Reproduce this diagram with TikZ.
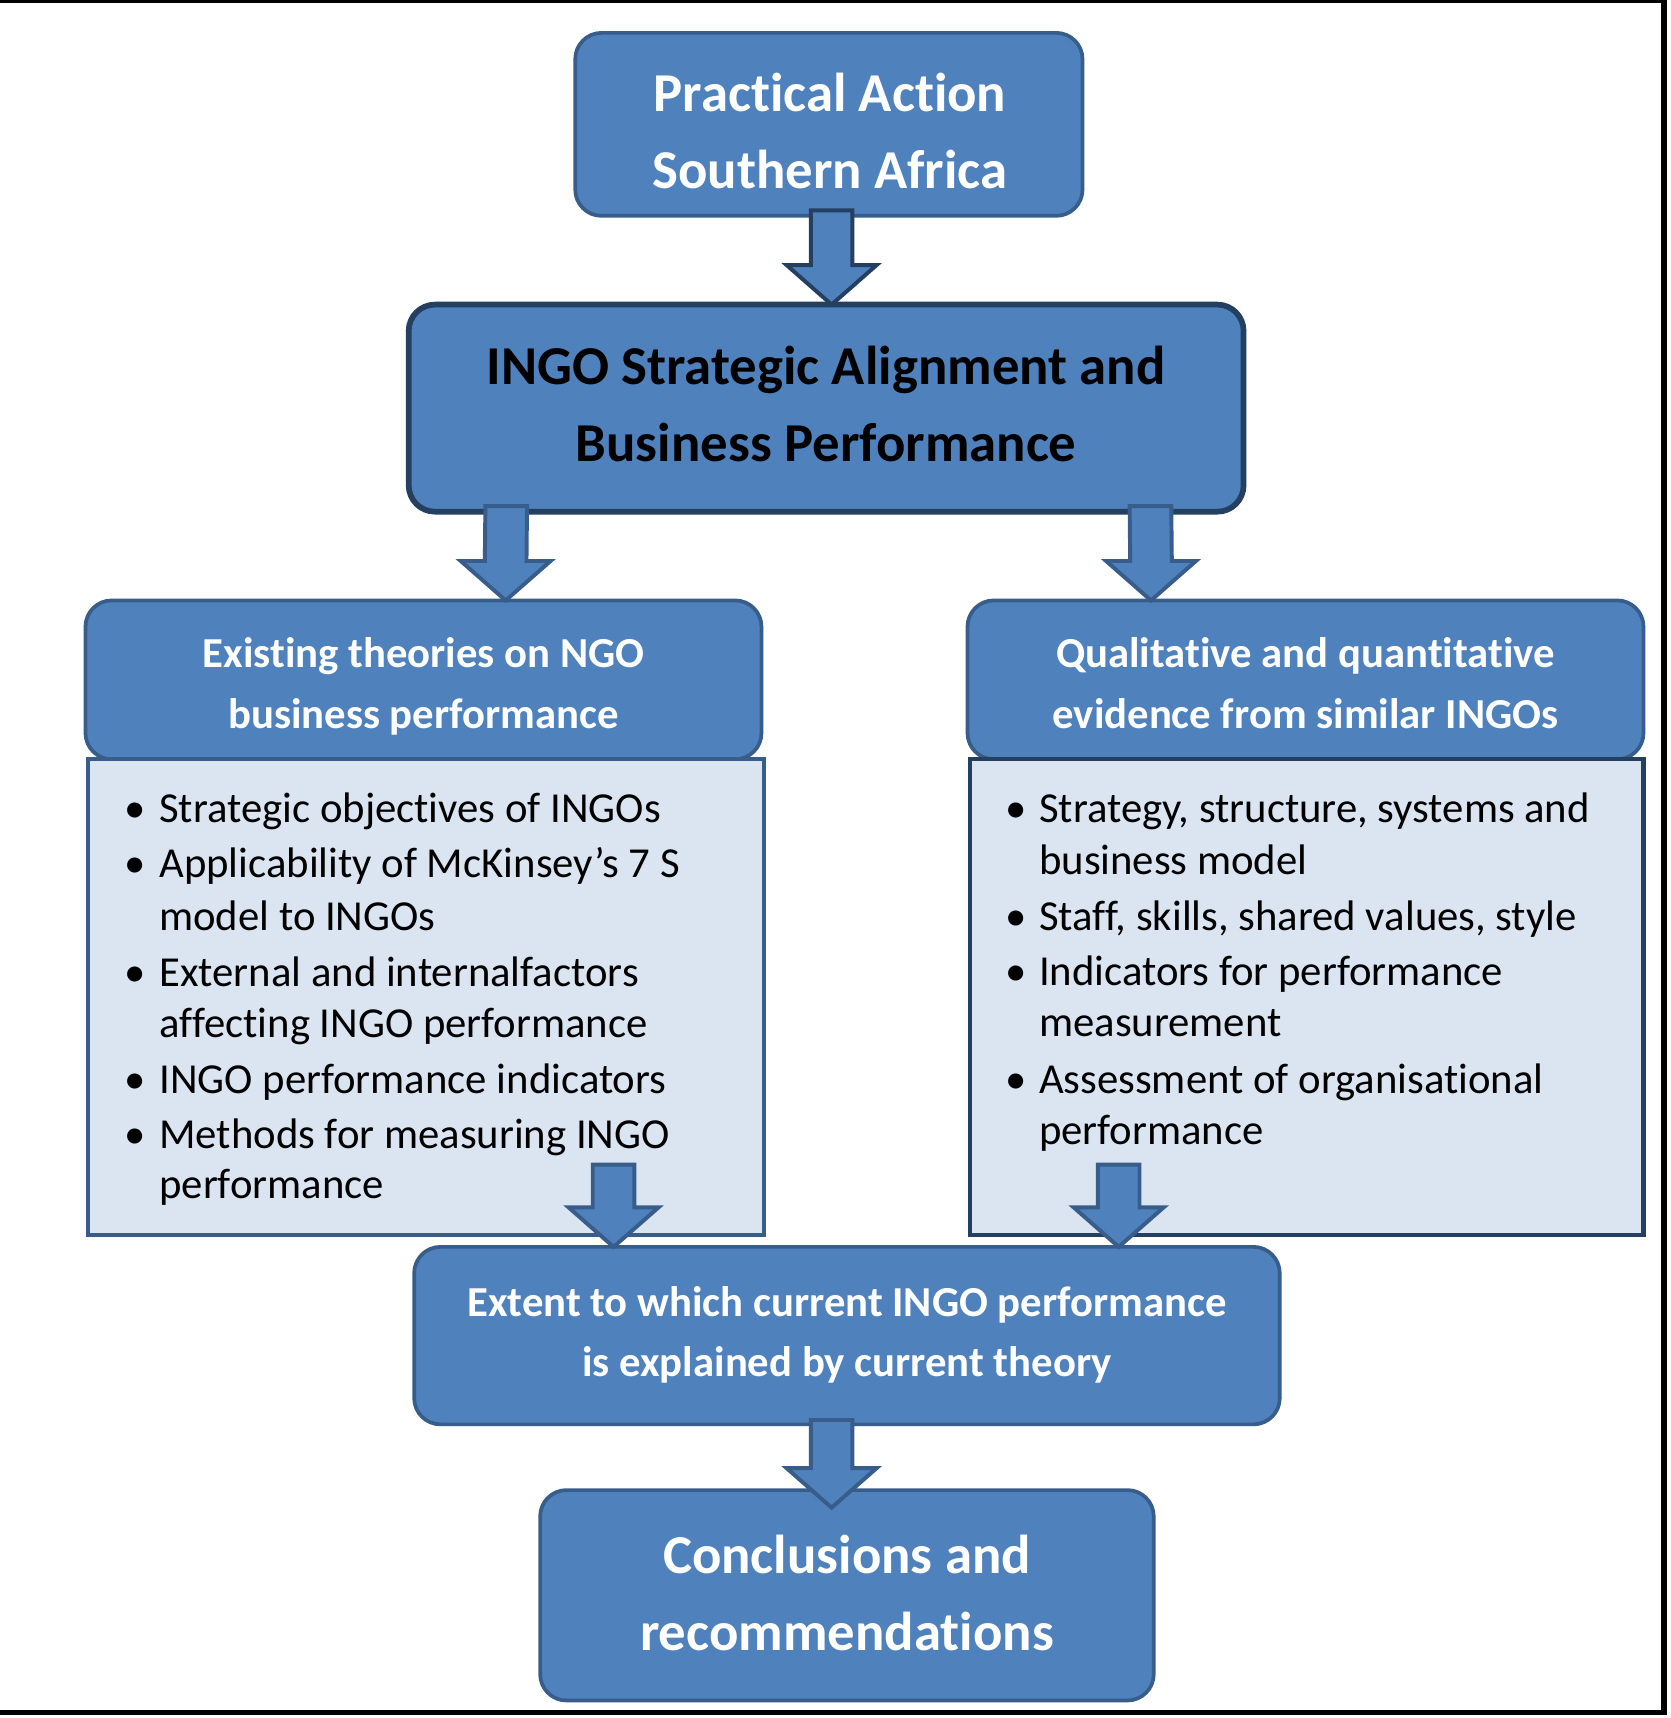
\documentclass[tikz,border=0pt]{standalone}
\usepackage{fontspec}
\setmainfont{Carlito}[Ligatures={NoCommon}]
\usetikzlibrary{calc}
\definecolor{boxblue}{RGB}{79,129,189}
\definecolor{midline}{RGB}{56,93,138}
\definecolor{darkline}{RGB}{36,63,96}
\definecolor{listfill}{RGB}{219,229,241}
\tikzset{
  bluebox/.style={draw=midline, fill=boxblue, line width=1.7pt, rounded corners=12pt,
    inner sep=0pt, outer sep=0pt},
  boxtext/.style={inner sep=0pt, align=center, text=white},
  listbox/.style={draw=midline, fill=listfill, line width=1.9pt, inner sep=0pt, outer sep=0pt},
  fatarr/.style={draw=midline, fill=boxblue, line width=1.8pt, line join=miter},
  bigtxt/.style={font=\fontsize{25}{35}\selectfont\bfseries},
  midtxt/.style={font=\fontsize{19.5}{27.5}\selectfont\bfseries},
  itemtxt/.style={font=\fontsize{19.5}{24}\selectfont, anchor=base west, inner sep=0pt, text=black},
  bul/.style={font=\fontsize{19.5}{24}\selectfont, anchor=base, inner sep=0pt, text=black},
  frameline/.style={draw=black, line width=2.6pt},
}
\newcommand{\fatarrow}[3][]{%
  \draw[fatarr,#1] ($(#2)+(-19,0)$) -- ($(#2)+(19,0)$) -- ($(#3)+(19,-36)$)
    -- ($(#3)+(41,-36)$) -- (#3) -- ($(#3)+(-41,-36)$) -- ($(#3)+(-19,-36)$) -- cycle;}
\begin{document}
\begin{tikzpicture}[x=0.5pt,y=-0.5pt]
\useasboundingbox (0,0) rectangle (1525,1568);
\fill[white] (0,0) rectangle (1525,1568);
% frame (top, right, bottom)
\draw[frameline] (0,0) -- (1519,0) -- (1519,1563) -- (0,1563);

% boxes
\node[bluebox, minimum width=231.5pt, minimum height=83.5pt] (top) at (756.5,113.5) {};
\node[boxtext, bigtxt] (toptxt) at ($(top.center)+(1,6)$) {Practical Action\\Southern Africa};
\node[bluebox, draw=darkline, line width=2.6pt, minimum width=381pt, minimum height=94.5pt] (main) at (754,372.5) {};
\node[boxtext, bigtxt, text=black] (maintxt) at ($(main.center)+(0,-4)$) {INGO Strategic Alignment and\\Business Performance};
\node[bluebox, minimum width=308.5pt, minimum height=72.5pt] (lh) at (386.5,620.5) {};
\node[boxtext, midtxt] (lhtxt) at ($(lh.center)+(0,6)$) {Existing theories on NGO\\business performance};
\node[bluebox, minimum width=308.5pt, minimum height=72.5pt] (rh) at (1191.5,620.5) {};
\node[boxtext, midtxt] (rhtxt) at ($(rh.center)+(0,3)$) {Qualitative and quantitative\\evidence from similar INGOs};
\node[listbox, minimum width=308.5pt, minimum height=217pt] (ll) at (388.5,910) {};
\node[listbox, draw=darkline, minimum width=307.5pt, minimum height=217pt] (rl) at (1192.5,910) {};
\node[bluebox, minimum width=395pt, minimum height=81pt] (ext) at (773,1219) {};
\node[boxtext, midtxt] (exttxt) at ($(ext.center)+(0,-1)$) {Extent to which current INGO performance\\is explained by current theory};
\node[bluebox, minimum width=280pt, minimum height=96pt] (concl) at (773,1456) {};
\node[boxtext, bigtxt] (concltxt) at ($(concl.center)+(0,-2)$) {Conclusions and\\recommendations};

% left list
\foreach \y/\n in {751/lb1,801/lb2,900/lb3,998/lb4,1048/lb5}
  \node[bul] (\n) at (123,\y) {•};
\node[itemtxt] (l1) at (145,751) {Strategic objectives of INGOs};
\node[itemtxt] (l2) at (145,801) {Applicability of McKinsey’s 7 S};
\node[itemtxt] (l3) at (145,849) {model to INGOs};
\node[itemtxt] (l4) at (145,900) {External and internalfactors};
\node[itemtxt] (l5) at (145,947) {affecting INGO performance};
\node[itemtxt] (l6) at (145,998) {INGO performance indicators};
\node[itemtxt] (l7) at (145,1048) {Methods for measuring INGO};
\node[itemtxt] (l8) at (145,1094) {performance};

% right list
\foreach \y/\n in {751/rb1,849/rb2,899/rb3,998/rb4}
  \node[bul] (\n) at (927,\y) {•};
\node[itemtxt] (r1) at (948,751) {Strategy, structure, systems and};
\node[itemtxt] (r2) at (948,798) {business model};
\node[itemtxt] (r3) at (948,849) {Staff, skills, shared values, style};
\node[itemtxt] (r4) at (948,899) {Indicators for performance};
\node[itemtxt] (r5) at (948,946) {measurement};
\node[itemtxt] (r6) at (948,998) {Assessment of organisational};
\node[itemtxt] (r7) at (948,1045) {performance};

% arrows
\fatarrow[draw=darkline]{$(top.south)+(2.5,-5)$}{$(main.north)+(5,0)$}
\fatarrow{$(main.south)+(-292,-5)$}{$(lh.north)+(75,0)$}
\fatarrow{$(main.south)+(296,-5)$}{$(rh.north)+(-141,0)$}
\fatarrow{$(ll.north)+(171.5,370)$}{$(ext.north)+(-213,0)$}
\fatarrow{$(rl.north)+(-171.5,370)$}{$(ext.north)+(248,0)$}
\fatarrow{$(ext.south)+(-14,-4)$}{$(concl.north)+(-14,16)$}
\end{tikzpicture}
\end{document}
